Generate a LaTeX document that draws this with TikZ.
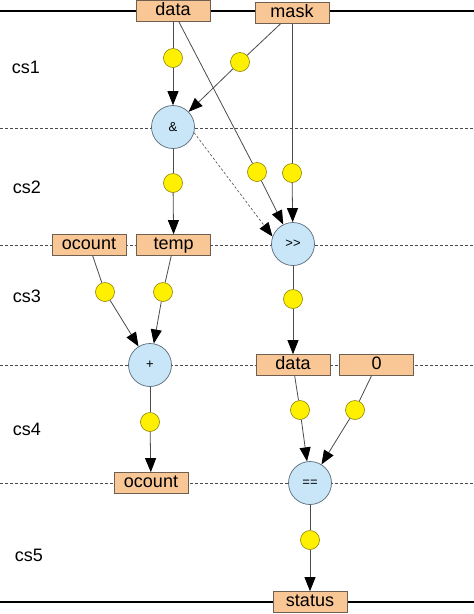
\documentclass[tikz,border=0pt]{standalone}
\usepackage{fontspec}
\setmainfont{Liberation Sans}
\usetikzlibrary{arrows.meta, positioning}
\definecolor{boxfill}{RGB}{249,198,150}
\definecolor{boxline}{RGB}{110,95,80}
\definecolor{opfill}{RGB}{200,230,248}
\definecolor{opline}{RGB}{90,105,120}
\definecolor{dotfill}{RGB}{255,240,0}
\definecolor{dotline}{RGB}{140,130,0}
\definecolor{wiregray}{RGB}{75,75,75}
\tikzset{
  varbox/.style={draw=boxline, fill=boxfill, minimum width=74pt, minimum height=21pt,
      inner sep=0pt, text height=13pt, text depth=3.5pt, font=\fontsize{18}{20}\selectfont, line width=0.7pt},
  opcircle/.style={circle, draw=opline, fill=opfill, minimum size=43pt, inner sep=0pt,
      font=\fontsize{13}{15}\selectfont, line width=0.7pt},
  regdot/.style={circle, draw=dotline, fill=dotfill, minimum size=19pt, inner sep=0pt, line width=0.6pt},
  mywire/.style={wiregray, line width=0.8pt},
  myarrow/.style={mywire, -{Triangle[length=14pt, width=11pt, color=black]}},
  mydashwire/.style={myarrow, dash pattern=on 2.5pt off 2pt, line width=0.6pt},
  cslbl/.style={font=\fontsize{18}{20}\selectfont},
  ioline/.style={black, line width=2pt},
  csline/.style={wiregray, line width=0.6pt, dash pattern=on 3pt off 2pt},
}

\begin{document}
\begin{tikzpicture}[x=1pt, y=-1pt]
      \useasboundingbox (0,0) rectangle (474,614);

      % === cycle boundaries ===
      \draw[ioline] (0,11) -- (474,11);
      \draw[csline] (0,128) -- (474,128);
      \draw[csline] (0,245) -- (474,245);
      \draw[csline] (0,365) -- (474,365);
      \draw[csline] (0,483) -- (474,483);
      \draw[ioline] (0,602) -- (474,602);

      \node[cslbl] (cs1) at (26,67) {cs1};
      \node[cslbl] (cs2) at (27,187) {cs2};
      \node[cslbl] (cs3) at (27,296) {cs3};
      \node[cslbl] (cs4) at (27,429) {cs4};
      \node[cslbl] (cs5) at (29,555) {cs5};

      % === registers and operators ===
      \node[varbox] (datain) at (173,10.5) {data};
      \node[varbox] (maskin) at (292,13) {mask};
      \node[opcircle] (andop) at (173,127) {\&};
      \node[opcircle] (shrop) at (293,244) {>{}>};
      \node[varbox] (ocntin) at (89,245) {ocount};
      \node[varbox, right=10pt of ocntin] (temp) {temp};
      \node[opcircle] (addop) at (150,365) {+};
      \node[varbox] (datareg) at (293,365) {data};
      \node[varbox, right=9pt of datareg] (zero) {0};
      \node[varbox] (ocntout) at (151,483) {ocount};
      \node[opcircle] (eqop) at (310,483) {==};
      \node[varbox] (status) at (310,602) {status};

      % === yellow dots ===
      \node[regdot] (d1) at (173,58) {};
      \node[regdot] (d2) at (240,62) {};
      \node[regdot] (d3) at (257,172) {};
      \node[regdot] (d4) at (292,173) {};
      \node[regdot] (d5) at (173,183) {};
      \node[regdot] (d6) at (105,292) {};
      \node[regdot] (d7) at (163,292) {};
      \node[regdot] (d8) at (293,299) {};
      \node[regdot] (d9) at (150,422) {};
      \node[regdot] (d10) at (300,410) {};
      \node[regdot] (d11) at (355,410) {};
      \node[regdot] (d12) at (310,540) {};

      % Arrows cs1 / cs2
      \draw[mywire] (datain) -- (d1);  \draw[myarrow] (d1) -- (andop);
      \draw[mywire] (maskin) -- (d2);  \draw[myarrow] (d2) -- (andop);
      \draw[mywire] (datain) -- (d3);  \draw[myarrow] (d3) -- (shrop);
      \draw[mywire] (maskin.south -| d4) -- (d4);  \draw[myarrow] (d4) -- (shrop);
      \draw[mywire] (andop) -- (d5);   \draw[myarrow] (d5) -- (temp);
      \draw[mydashwire] (andop.-15) -- (shrop.160);

      % Arrows cs3
      \draw[mywire] (ocntin) -- (d6); \draw[myarrow] (d6) -- (addop);
      \draw[mywire] (temp) -- (d7);   \draw[myarrow] (d7) -- (addop);
      \draw[mywire] (shrop) -- (d8);  \draw[myarrow] (d8) -- (datareg);

      % Arrows cs4 / cs5
      \draw[mywire] (addop) -- (d9);    \draw[myarrow] (d9) -- (ocntout);
      \draw[mywire] (datareg) -- (d10); \draw[myarrow] (d10) -- (eqop);
      \draw[mywire] (zero) -- (d11);    \draw[myarrow] (d11) -- (eqop);
      \draw[mywire] (eqop) -- (d12);    \draw[myarrow] (d12) -- (status);
\end{tikzpicture}
\end{document}
